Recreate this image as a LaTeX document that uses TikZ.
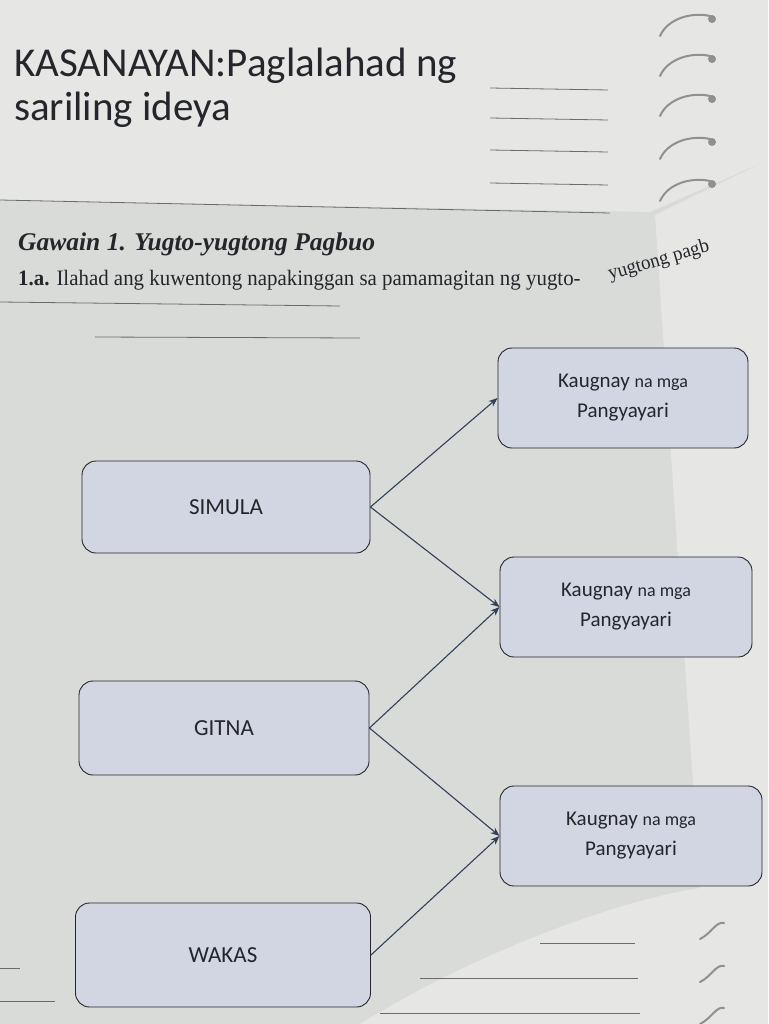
\documentclass[tikz,border=0pt]{standalone}
\usepackage{fontspec}
\setmainfont{Carlito}
\newfontfamily\bookserif{Liberation Serif}
\newfontfamily\narrowserif[FakeStretch=0.95]{Liberation Serif}
\usetikzlibrary{arrows.meta}
\definecolor{paper}{HTML}{D9DBD9}
\definecolor{paperlit}{HTML}{E6E7E5}
\definecolor{boxfill}{HTML}{D2D6E2}
\definecolor{ink}{HTML}{24262B}
\definecolor{arrowink}{HTML}{34405A}
\definecolor{ruleink}{HTML}{6A6C6C}
\definecolor{ringink}{HTML}{8E9092}
\tikzset{
  stage/.style={draw=ink, fill=boxfill, rounded corners=14pt, line width=0.9pt,
    minimum width=288pt, minimum height=92pt, text=ink,
    font=\fontsize{23}{26}\selectfont},
  event/.style={stage, minimum width=250pt, minimum height=100pt, align=center,
    font=\fontsize{21}{30}\selectfont},
  link/.style={draw=arrowink, line width=1.1pt, -{Stealth[length=9pt,width=7pt]}},
  rule/.style={draw=ruleink, line width=0.8pt},
  ring/.style={draw=ringink, line width=2pt, line cap=round},
  every node/.style={inner sep=0pt}
}
\newcommand{\NaMga}{{\fontsize{18}{20}\selectfont na mga}}

\begin{document}
\begin{tikzpicture}[x=1pt,y=-1pt]
  \useasboundingbox (0,0) rectangle (768,1024);
  % paper
  \fill[paper] (0,0) rectangle (768,1024);
  \fill[paperlit] (0,0) -- (768,0) -- (768,160) -- (650,212) -- (0,200) -- cycle;
  \fill[paperlit] (655,215) -- (768,160) -- (768,1024) -- (360,1024)
    .. controls (480,950) and (620,900) .. (700,888) -- cycle;

  % spiral rings
  \foreach \y in {12,52,92,135,177}{
    \draw[ring] (660,\y+24) .. controls (668,\y+6) and (692,\y) .. (710,\y+4);
    \fill[ringink] (712,\y+7) circle (4);
  }
  \foreach \y in {925,968,1010}{
    \draw[ring] (700,\y+14) .. controls (712,\y+8) and (716,\y-4) .. (724,\y-2);
  }

  % writing lines
  \foreach \y in {88,118,150,183}{
    \draw[rule] (490,\y) -- (608,\y+2);
  }
  \draw[rule] (0,200) -- (610,213);
  \draw[rule] (0,302) -- (340,306);
  \draw[rule] (95,337) -- (360,338);
  \draw[rule] (540,943) -- (635,943);
  \draw[rule] (420,978) -- (638,978);
  \draw[rule] (380,1013) -- (640,1013);
  \draw[rule] (0,968) -- (20,968);
  \draw[rule] (0,1001) -- (55,1001);

  % headings
  \node[anchor=base west, text=ink, font=\fontsize{41}{44}\selectfont] (title) at (14,77) {KASANAYAN:Paglalahad ng};
  \node[anchor=base west, text=ink, font=\fontsize{41}{44}\selectfont] (title2) at (14,121) {sariling ideya};
  \node[anchor=base west, text=ink, font=\bookserif\bfseries\itshape\fontsize{25.5}{28}\selectfont] (gawain) at (18,251) {Gawain 1. Yugto-yugtong Pagbuo};
  \node[anchor=base west, text=ink, font=\narrowserif\fontsize{22}{24}\selectfont] (panuto) at (18,285) {\textbf{1.a.} Ilahad ang kuwentong napakinggan sa pamamagitan ng yugto-};
  \node[anchor=base west, text=ink, rotate=16, font=\narrowserif\fontsize{20}{24}\selectfont] (panuto2) at (610,280) {yugtong pagb};

  % stages
  \node[stage] (simula) at (226,507) {SIMULA};
  \node[stage, minimum width=290pt, minimum height=94pt] (gitna) at (224,728) {GITNA};
  \node[stage, minimum width=295pt, minimum height=104pt] (wakas) at (223,955) {WAKAS};

  % events
  \node[event] (kaugnayA) at (623,398) {Kaugnay \NaMga\\Pangyayari};
  \node[event, minimum width=252pt] (kaugnayB) at (626,607) {Kaugnay \NaMga\\Pangyayari};
  \node[event, minimum width=262pt] (kaugnayC) at (631,836) {Kaugnay \NaMga\\Pangyayari};

  % links
  \draw[link] (simula.east) -- (kaugnayA.west);
  \draw[link] (simula.east) -- (kaugnayB.west);
  \draw[link] (gitna.east) -- (kaugnayB.west);
  \draw[link] (gitna.east) -- (kaugnayC.west);
  \draw[link] (wakas.east) -- (kaugnayC.west);
\end{tikzpicture}
\end{document}
